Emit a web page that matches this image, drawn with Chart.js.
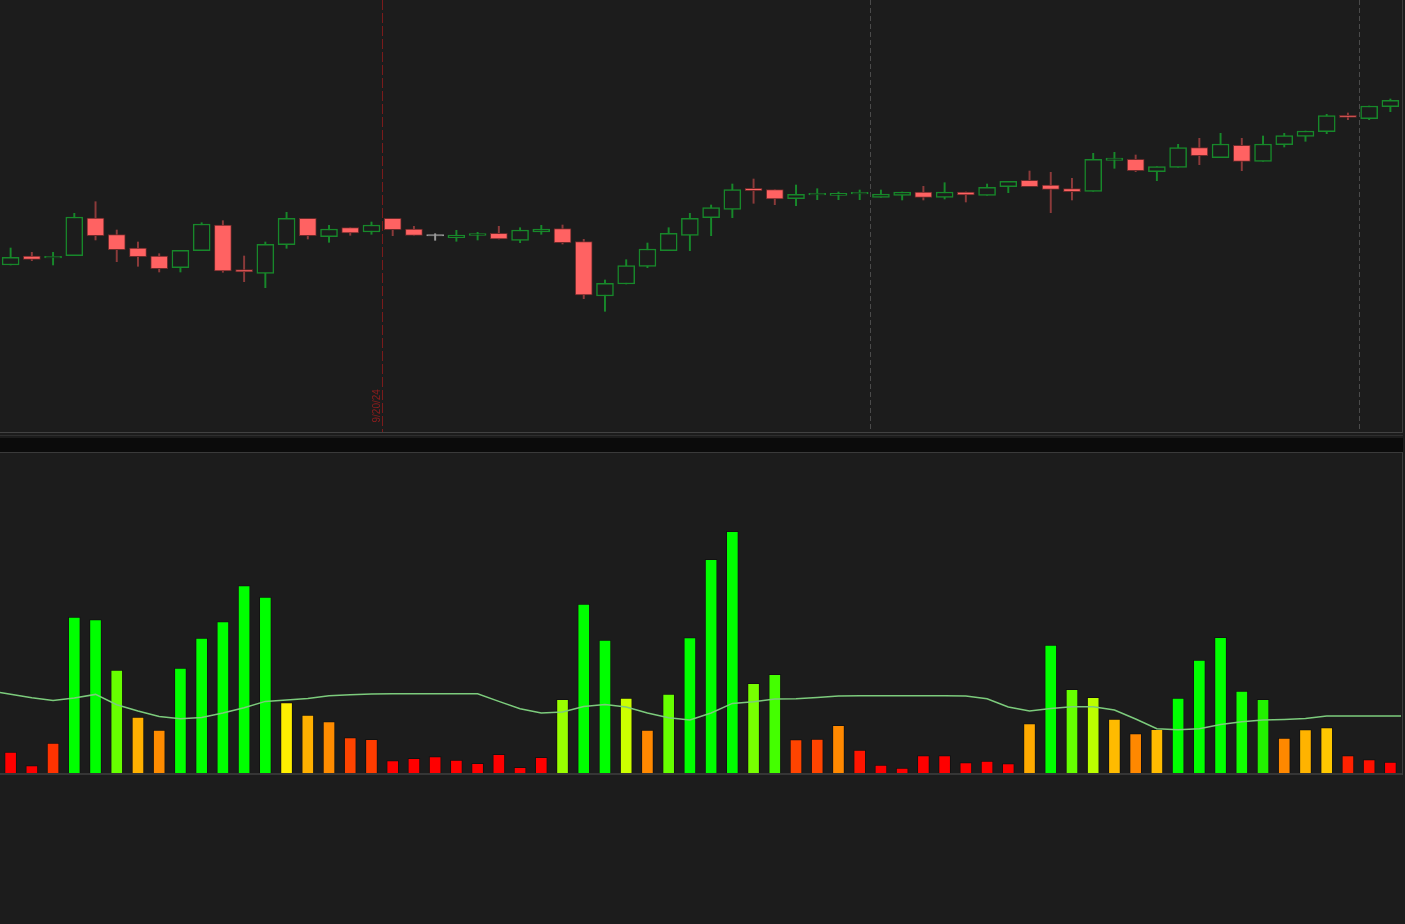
<!DOCTYPE html>
<html><head><meta charset="utf-8">
<script src="https://cdn.jsdelivr.net/npm/chart.js@4.4.1/dist/chart.umd.min.js"></script>
<style>
html,body{margin:0;padding:0;background:#1c1c1c;width:1405px;height:924px;overflow:hidden;}
.abs{position:absolute;display:block;}
</style></head><body>
<canvas id="price" class="abs" width="1401" height="432" style="left:0;top:0;"></canvas>
<div class="abs" style="left:0;top:432px;width:1403px;height:1px;background:#424242;"></div>
<div class="abs" style="left:0;top:435px;width:1403px;height:1px;background:#2e2e2e;"></div>
<div class="abs" style="left:0;top:438px;width:1403px;height:14px;background:#0b0b0b;"></div>
<div class="abs" style="left:0;top:452px;width:1403px;height:1px;background:#3a3a3a;"></div>
<canvas id="vol" class="abs" width="1401" height="321" style="left:0;top:452px;"></canvas>
<div class="abs" style="left:0;top:773px;width:1403px;height:2px;background:#363636;"></div>
<div class="abs" style="left:1402px;top:0;width:1px;height:433px;background:#3d3d3d;"></div>
<div class="abs" style="left:1402px;top:452px;width:1px;height:323px;background:#3d3d3d;"></div>
<script>
// ---------- DATA ----------
const dates = ['8/26','8/27','8/28','8/29','8/30','9/3','9/4','9/5','9/6','9/9','9/10','9/11','9/12','9/13','9/16','9/17','9/18','9/19','9/20','9/23','9/24','9/25','9/26','9/27','9/30','10/1','10/2','10/3','10/4','10/7','10/8','10/9','10/10','10/11','10/14','10/15','10/16','10/17','10/18','10/21','10/22','10/23','10/24','10/25','10/28','10/29','10/30','10/31','11/1','11/4','11/5','11/6','11/7','11/8','11/11','11/12','11/13','11/14','11/15','11/18','11/19','11/20','11/21','11/22','11/25','11/26'];

const open = [113.50,114.40,114.20,114.43,118.20,116.53,115.20,114.40,113.23,114.93,
 117.50,113.03,112.67,115.53,118.17,116.33,117.23,116.80,118.17,117.10,
 116.40,116.23,116.47,116.67,115.97,116.80,117.13,115.83,110.40,111.60,
 113.37,114.93,116.47,118.23,119.07,121.17,121.03,120.13,120.50,120.47,
 120.60,120.27,120.47,120.80,120.27,120.80,120.47,121.33,121.97,121.50,
 121.13,120.87,123.97,124.07,122.83,123.27,125.23,124.23,125.47,123.87,
 125.53,126.37,126.83,128.47,128.13,129.33];
const close = [114.27,114.07,114.37,118.30,116.43,115.03,114.33,113.13,114.97,117.60,
 112.90,112.80,115.57,118.17,116.43,117.10,116.70,117.50,117.03,116.47,
 116.40,116.50,116.63,116.10,117.00,117.10,115.73,110.50,111.67,113.43,
 115.10,116.67,118.17,119.23,121.03,120.93,120.10,120.57,120.67,120.67,
 120.77,120.60,120.80,120.27,120.80,120.50,121.27,121.87,121.33,121.07,
 120.83,124.07,124.20,122.93,123.33,125.23,124.43,125.60,123.87,125.60,
 126.43,126.90,128.43,128.27,129.40,129.97];
const high = [115.20,114.77,114.77,118.67,119.83,117.00,115.80,114.63,114.97,117.73,
 117.93,114.40,115.80,118.77,118.17,117.47,117.23,117.80,118.17,117.37,
 116.63,116.97,116.77,117.37,117.23,117.47,117.50,116.07,112.00,114.03,
 115.70,117.23,118.67,119.50,121.60,122.10,121.03,121.50,121.13,120.80,
 121.00,121.00,120.80,121.37,121.73,120.80,121.60,121.87,122.90,122.77,
 122.17,124.67,124.77,124.50,123.33,125.57,126.17,126.67,126.17,126.40,
 126.67,126.90,128.57,128.70,129.40,130.10];
const low = [113.50,113.93,113.50,114.43,116.00,113.83,113.37,112.80,112.80,114.93,
 112.77,111.83,111.23,115.17,116.10,115.77,116.47,116.57,116.43,116.47,
 115.97,115.87,116.00,116.10,115.73,116.57,115.60,110.13,108.87,111.60,
 113.23,114.93,114.93,116.43,118.23,119.67,119.53,119.43,120.03,120.03,
 120.03,120.27,120.00,120.00,120.10,119.80,120.47,120.73,121.33,118.73,
 120.00,120.87,123.17,122.83,121.93,123.27,123.53,124.23,122.93,123.87,
 125.30,125.87,126.63,128.03,128.03,128.83];

// volume, thousands of shares
const volume = [210,73,300,1560,1533,1030,560,430,1050,1350,
 1513,1873,1760,703,580,513,353,336,123,146,
 163,130,96,186,56,156,736,1690,1330,750,
 430,790,1353,2136,2416,896,986,333,340,476,
 230,80,50,173,173,103,120,93,493,1280,
 836,756,540,393,436,750,1130,1356,820,736,
 350,433,453,173,133,110];
// volume moving average (per day), plus its value at the left and right panel edges
const volumeAvg = [788,753,726,750,786,683,620,566,543,556,
 600,653,716,730,746,773,783,790,793,793,
 793,793,793,716,643,600,610,666,686,660,
 600,553,530,600,696,713,740,743,756,770,
 773,773,773,773,773,770,743,660,620,646,
 663,663,630,540,443,433,443,486,513,530,
 536,546,570,570,570,570];
const volumeAvgLeftEdge = 806;
const volumeAvgRightEdge = 570;

// markers: separator drawn after these indices
const eventMarkerAfter = [17];
const eventMarkerLabels = ['9/20/24'];
const periodBreaksAfter = [40, 63];

// ---------- STYLES ----------
const volumeColors = ['#ff0000','#ff0000','#ff3300','#00ff00','#00ff00','#66ff00','#ffb000','#ff8c00','#00ff00','#00ff00',
 '#00ff00','#00ff00','#00ff00','#fff000','#ffb000','#ff8c00','#ff4400','#ff3c00','#ff0000','#ff0000',
 '#ff0000','#ff0000','#ff0000','#ff0000','#ff0000','#ff0000','#99ff00','#00ff00','#00ff00','#ccff00',
 '#ff8800','#66ff00','#00ff00','#00ff00','#00ff00','#77ff00','#44ff00','#ff4400','#ff4400','#ff8800',
 '#ff1500','#ff0000','#ff0000','#ff0000','#ff0000','#ff0000','#ff0000','#ff0000','#ffaa00','#00ff00',
 '#66ff00','#bbff00','#ffbb00','#ff8800','#ffbb00','#00ff00','#00ff00','#00ff00','#11ff00','#22f000',
 '#ff8800','#ffb300','#ffc800','#ff2200','#ff1100','#ff0000'];
const BG = '#1c1c1c';
const UP = '#17882a', DOWN_BODY = '#ff6262', DOWN_WICK = '#8c3a3a', FLAT = '#9a9a9a';

const dir = open.map((o,i) => close[i] > o ? 1 : (close[i] < o ? -1 : 0));
const bodyFill = dir.map(d => d > 0 ? BG : d < 0 ? DOWN_BODY : FLAT);
const bodyBorder = dir.map(d => d > 0 ? UP : d < 0 ? '#6a2a2a' : FLAT);
const wickColor = dir.map(d => d > 0 ? UP : d < 0 ? DOWN_WICK : FLAT);

const markerPlugin = {
  id: 'markers',
  beforeDatasetsDraw(chart) {
    const {ctx, chartArea, scales: {x}} = chart;
    ctx.save();
    ctx.lineWidth = 1;
    periodBreaksAfter.forEach(i => {
      const px = Math.round(x.getPixelForValue(i + 0.5)) + 0.5;
      ctx.strokeStyle = '#4a4a4a';
      ctx.setLineDash([5, 3]);
      ctx.beginPath(); ctx.moveTo(px, 0); ctx.lineTo(px, chartArea.bottom - 1); ctx.stroke();
    });
    eventMarkerAfter.forEach((i, k) => {
      const px = Math.round(x.getPixelForValue(i + 0.5)) + 0.5;
      ctx.strokeStyle = '#7a1b1b';
      ctx.setLineDash([10, 3]);
      ctx.beginPath(); ctx.moveTo(px, 0); ctx.lineTo(px, chartArea.bottom); ctx.stroke();
      ctx.save();
      ctx.translate(px - 2.5, chartArea.bottom - 9.5);
      ctx.rotate(-Math.PI / 2);
      ctx.fillStyle = '#8f1d1d';
      ctx.font = '10px "Liberation Sans", Arial, sans-serif';
      ctx.textAlign = 'left';
      ctx.textBaseline = 'alphabetic';
      ctx.fillText(eventMarkerLabels[k], 0, 0);
      ctx.restore();
    });
    ctx.restore();
  }
};

const commonOpts = {
  responsive: false,
  animation: false,
  devicePixelRatio: 1,
  layout: {padding: 0},
  plugins: {legend: {display: false}, tooltip: {enabled: false}},
  events: []
};

new Chart(document.getElementById('price'), {
  type: 'bar',
  data: {
    labels: dates,
    datasets: [
      {
        label: 'body',
        data: open.map((o, i) => [o, close[i]]),
        backgroundColor: bodyFill,
        borderColor: bodyBorder,
        borderWidth: dir.map(d => d > 0 ? 1.5 : 1),
        borderSkipped: false,
        barThickness: 17,
        minBarLength: 1.5,
        grouped: false,
        order: 0
      },
      {
        label: 'wick',
        data: low.map((l, i) => [l, high[i]]),
        backgroundColor: wickColor,
        borderWidth: 0,
        barThickness: 1.3,
        grouped: false,
        order: 1
      }
    ]
  },
  options: Object.assign({}, commonOpts, {
    scales: {
      x: {display: false, offset: true},
      y: {display: false, min: 96.8, max: 140}
    }
  }),
  plugins: [markerPlugin]
});

const n = dates.length;
const avgPoints = [{x: -0.5, y: volumeAvgLeftEdge}]
  .concat(volumeAvg.map((v, i) => ({x: i, y: v})))
  .concat([{x: n - 0.5, y: volumeAvgRightEdge}]);

new Chart(document.getElementById('vol'), {
  type: 'bar',
  data: {
    datasets: [
      {
        type: 'line',
        label: 'avg',
        data: avgPoints,
        borderColor: '#7ccb7c',
        borderWidth: 1.5,
        pointRadius: 0,
        tension: 0,
        fill: false,
        order: 0
      },
      {
        type: 'bar',
        label: 'volume',
        data: volume.map((v, i) => ({x: i, y: v})),
        backgroundColor: volumeColors,
        borderColor: 'rgba(0,0,0,0.35)',
        borderWidth: 1,
        barThickness: 12,
        order: 1
      }
    ]
  },
  options: Object.assign({}, commonOpts, {
    scales: {
      x: {type: 'linear', display: false, min: -0.5, max: n - 0.5, offset: false},
      y: {display: false, min: 0, max: 3210}
    }
  })
});
</script>
</body></html>
